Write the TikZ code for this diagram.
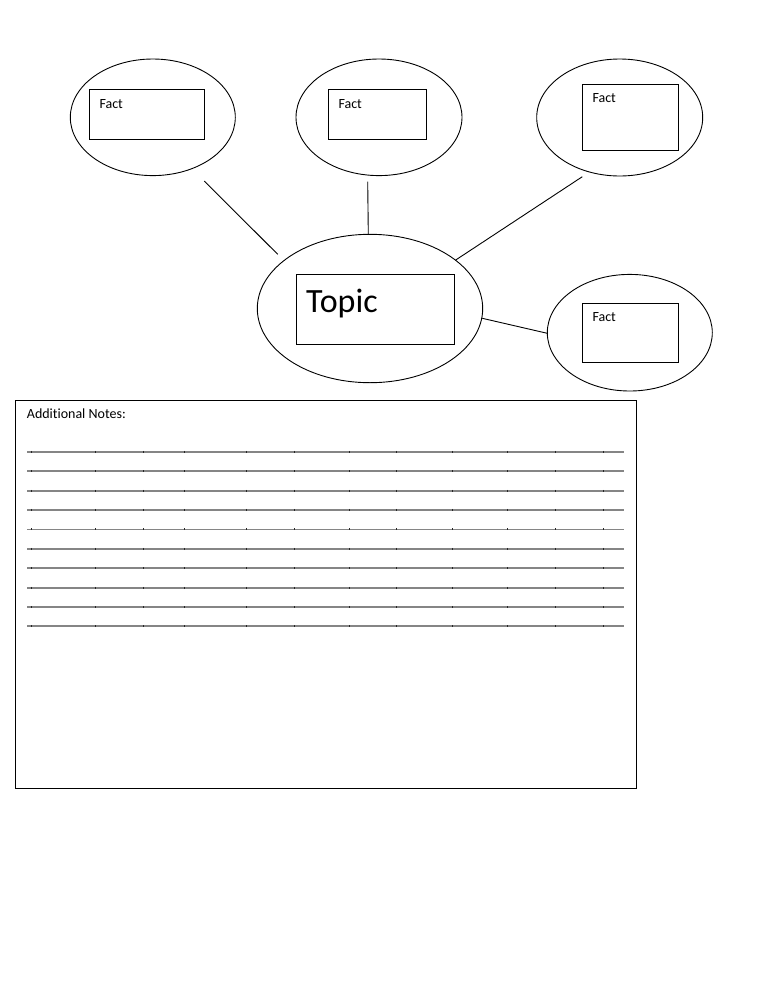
\documentclass[tikz,border=0pt]{standalone}
\usepackage{fontspec}
\setmainfont{Carlito}[Ligatures={NoCommon,NoContextual}]
\usetikzlibrary{shapes.geometric}
\begin{document}
\begin{tikzpicture}[x=1pt,y=-1pt,
  bubble/.style={draw=black, line width=0.9pt, ellipse, inner sep=0pt},
  factbox/.style={draw=black, line width=1.15pt, rectangle, inner sep=0pt},
  facttext/.style={anchor=base west, inner sep=0pt, font=\fontsize{14}{16}\selectfont},
  link/.style={draw=black, line width=0.9pt},
  rule/.style={draw=black!48, line width=1.6pt},
  tick/.style={draw=black!85, line width=1pt}]
\useasboundingbox[fill=white] (0,0) rectangle (768,994);

% bubbles
\node[bubble, minimum width=165pt, minimum height=116.6pt] (e1) at (152.8,117.3) {};
\node[bubble, minimum width=166pt, minimum height=116.6pt] (e2) at (379,117.3) {};
\node[bubble, minimum width=166pt, minimum height=117pt] (e3) at (619.7,117.5) {};
\node[bubble, minimum width=165pt, minimum height=116.6pt] (e4) at (629.8,332.7) {};
\node[bubble, minimum width=225.4pt, minimum height=148.4pt] (topic) at (370,308.5) {};

% boxes
\node[factbox, minimum width=115pt, minimum height=50pt] (b1) at (146.8,114.5) {};
\node[factbox, minimum width=98pt, minimum height=50pt] (b2) at (377.5,114.5) {};
\node[factbox, minimum width=96pt, minimum height=66pt] (b3) at (630.5,117.5) {};
\node[factbox, minimum width=96pt, minimum height=59pt] (b4) at (630.5,333) {};
\node[factbox, minimum width=158pt, minimum height=70pt] (tb) at (375.5,309.5) {};

% texts
\node[facttext] (t1) at (99.3,108.3) {Fact};
\node[facttext] (t2) at (338.3,108.3) {Fact};
\node[facttext] (t3) at (592.3,102.7) {Fact};
\node[facttext] (t4) at (592.3,321) {Fact};
\node[anchor=base west, inner sep=0pt, font=\fontsize{34}{38}\selectfont] (tt) at (306,312.3) {Topic};

% connector end points
\coordinate (a1) at (204.3,181);
\coordinate (z1) at (277.7,254.3);
\coordinate (a2) at (367.7,181.7);
\coordinate (z2) at (368.3,234.3);
\coordinate (a3) at (582.3,176.7);
\coordinate (z3) at (455.7,260);
\coordinate (a4) at (482.3,318.3);
\coordinate (z4) at (547.3,333.3);
\draw[link] (a1) -- (z1);
\draw[link] (a2) -- (z2);
\draw[link] (a3) -- (z3);
\draw[link] (a4) -- (z4);

% notes box
\node[draw=black, line width=1.2pt, rectangle, inner sep=0pt, minimum width=620.6pt, minimum height=387.6pt] (notes) at (326,594.5) {};
\node[anchor=base west, inner sep=0pt, font=\fontsize{14}{16}\selectfont] (nt) at (26.7,418) {Additional Notes:};

\foreach \yy in {451.7,471,490.7,509.7,529.3,548.7,568,587.7,607,626} {
  \draw[rule] (27,\yy) -- (624,\yy);
  \foreach \xx in {31.7,95.7,143.3,184.3,246.7,294.3,349,396.7,452.3,507.3,555.3,603.3} {
    \draw[tick] (\xx,\yy-0.9) -- (\xx,\yy+0.9);
  }
}
\end{tikzpicture}
\end{document}
